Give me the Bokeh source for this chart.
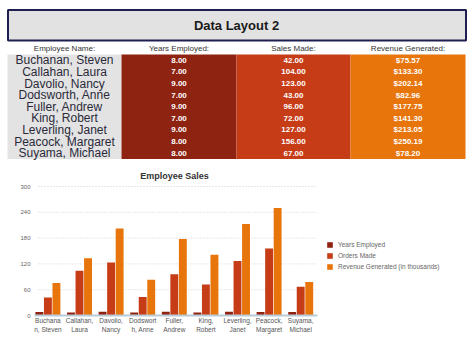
from bokeh.plotting import figure
from bokeh.models import ColumnDataSource, Legend, LegendItem, Range1d
from bokeh.transform import dodge
from bokeh.embed import file_html
from bokeh.resources import INLINE
from bokeh.core.properties import value

names = ["Buchanan, Steven", "Callahan, Laura", "Davolio, Nancy", "Dodsworth, Anne",
         "Fuller, Andrew", "King, Robert", "Leverling, Janet", "Peacock, Margaret", "Suyama, Michael"]
short_labels = ["Buchana\nn, Steven", "Callahan,\nLaura", "Davolio,\nNancy", "Dodswort\nh, Anne",
                "Fuller,\nAndrew", "King,\nRobert", "Leverling,\nJanet", "Peacock,\nMargaret", "Suyama,\nMichael"]
years = [8, 7, 9, 7, 9, 7, 9, 8, 8]
sales = [42, 104, 123, 43, 96, 72, 127, 156, 67]
revenue = [75.57, 133.30, 202.14, 82.96, 177.75, 141.30, 213.05, 250.19, 78.20]
headers = ["Employee Name:", "Years Employed:", "Sales Made:", "Revenue Generated:"]
y_ticks = [0, 60, 120, 180, 240, 300]
series = ["Years Employed", "Orders Made", "Revenue Generated (in thousands)"]

C_YEARS = "#8e2311"
C_SALES = "#c63c17"
C_REV = "#e8740c"
FONT = "Liberation Sans"
W, H = 474, 348

p = figure(width=W, height=H, output_backend="svg", toolbar_location=None,
           x_range=Range1d(0, W), y_range=Range1d(H, 0),
           x_axis_location=None, y_axis_location=None,
           min_border=0, min_border_left=0, min_border_right=0, min_border_top=0, min_border_bottom=0)
p.grid.visible = False
p.outline_line_color = None
p.background_fill_color = "white"
p.border_fill_color = "white"

# value scale: 0 -> y=315, 300 -> y=186 ; category slots: slot i centred at 47.4 + 31.6*i
p.extra_y_ranges = {"v": Range1d(-76.74, 732.56)}
p.extra_x_ranges = {"cat": Range1d(-1.5, 13.5)}

# ---------- title box ----------
p.quad(left=[7.5], right=[465.5], top=[9.5], bottom=[40], fill_color="#e2e2e2",
       line_color="#1e1e50", line_width=2)
p.text(x=[236], y=[25], text=["Data Layout 2"], text_font=value(FONT), text_font_style="bold",
       text_font_size="13px", text_align="center", text_baseline="middle", text_color="#1a1a1a")

# ---------- table ----------
col_left = [7, 121, 236, 350]
col_right = [121, 236, 350, 465]
col_colors = ["#e3e3e3", C_YEARS, C_SALES, C_REV]
hdr_x = [(a + b) / 2 for a, b in zip(col_left, col_right)]
p.text(x=hdr_x, y=[47.5] * 4, text=headers, text_font=value(FONT), text_font_size="8px",
       text_align="center", text_baseline="middle", text_color="#333333")

row_top = 54
row_h = 11.6
n = len(names)
p.quad(left=col_left, right=col_right, top=[row_top] * 4, bottom=[row_top + row_h * n] * 4,
       fill_color=col_colors, line_color=None)

row_y = [row_top + row_h * (i + 0.5) for i in range(n)]
p.text(x=[hdr_x[0]] * n, y=row_y, text=names, text_font=value(FONT), text_font_size="12px",
       text_align="center", text_baseline="middle", text_color="#2a2a3a")
for xc, vals, fmt in [(hdr_x[1], years, "{:.2f}"), (hdr_x[2], sales, "{:.2f}"),
                      (hdr_x[3], revenue, "${:.2f}")]:
    p.text(x=[xc] * n, y=row_y, text=[fmt.format(v) for v in vals], text_font=value(FONT),
           text_font_size="8px", text_font_style="bold", text_align="center",
           text_baseline="middle", text_color="white")

# ---------- chart ----------
p.text(x=[174], y=[175], text=["Employee Sales"], text_font=value(FONT), text_font_style="bold",
       text_font_size="9px", text_align="center", text_baseline="middle", text_color="#333333")

p.segment(x0=[38] * len(y_ticks), x1=[317] * len(y_ticks), y0=y_ticks, y1=y_ticks,
          y_range_name="v", line_color="#cfcfcf", line_width=1, line_dash="1 2")
p.text(x=[30] * len(y_ticks), y=y_ticks, text=[str(t) for t in y_ticks], y_range_name="v",
       text_font=value(FONT), text_font_size="6px", text_align="right", text_baseline="middle",
       text_color="#666666")

src = ColumnDataSource(dict(idx=list(range(n)), name=short_labels, years=years,
                            sales=sales, revenue=revenue))
w = 0.25
r1 = p.vbar(x=dodge("idx", -0.27), top="years", bottom=0,
            width=w, source=src, x_range_name="cat", y_range_name="v",
            fill_color=C_YEARS, line_color=None)
r2 = p.vbar(x=dodge("idx", 0.0), top="sales", bottom=0,
            width=w, source=src, x_range_name="cat", y_range_name="v",
            fill_color=C_SALES, line_color=None)
r3 = p.vbar(x=dodge("idx", 0.27), top="revenue", bottom=0,
            width=w, source=src, x_range_name="cat", y_range_name="v",
            fill_color=C_REV, line_color=None)

p.segment(x0=[34], x1=[317], y0=[0], y1=[0], y_range_name="v",
          line_color="#b8ccd8", line_width=2)

p.text(x="idx", y=-4, text="name", source=src, x_range_name="cat", y_range_name="v",
       text_font=value(FONT), text_font_size="6.5px", text_align="center",
       text_baseline="top", text_color="#555555", text_line_height=1.25)

legend = Legend(items=[LegendItem(label=series[0], renderers=[r1]),
                       LegendItem(label=series[1], renderers=[r2]),
                       LegendItem(label=series[2], renderers=[r3])],
                location=(326, 77), label_text_font=FONT, label_text_font_size="6.5px",
                label_text_color="#666666", glyph_width=7, glyph_height=7, spacing=2,
                label_height=9, padding=2, margin=0, border_line_color=None,
                background_fill_alpha=0, label_standoff=5)
p.add_layout(legend)

open("out.html", "w").write(file_html(p, INLINE))
